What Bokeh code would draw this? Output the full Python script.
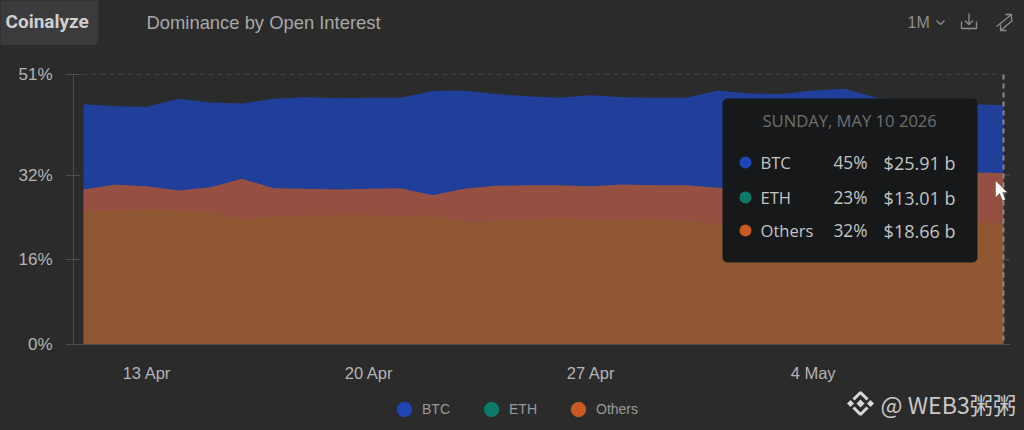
from datetime import datetime, timedelta

from bokeh.embed import file_html
from bokeh.models import (BoxAnnotation, ColumnDataSource, FixedTicker, Label, Legend, LegendItem,
                          PolyAnnotation, Range1d, Span)
from bokeh.plotting import figure
from bokeh.resources import INLINE

start = datetime(2026, 4, 11)
days = [start + timedelta(days=i) for i in range(30)]
btc = [45.4, 45.0, 44.9, 46.4, 45.7, 45.5, 46.4, 46.7, 46.5, 46.6,
       46.6, 47.9, 48.0, 47.3, 46.9, 46.6, 47.1, 46.7, 46.6, 46.6,
       48.0, 47.4, 47.3, 48.0, 48.3, 46.6, 46.1, 45.9, 45.4, 45.2]
others = [29.3, 30.2, 29.9, 29.1, 29.7, 31.3, 29.5, 29.4, 29.3, 29.4,
          29.5, 28.2, 29.4, 30.0, 30.1, 30.1, 29.9, 30.2, 30.1, 30.1,
          29.6, 29.5, 29.6, 29.8, 30.0, 30.2, 30.6, 31.4, 32.5, 32.4]
eth = [25.3, 25.2, 25.5, 25.2, 25.0, 23.6, 24.2, 24.3, 24.4, 24.5,
       24.1, 24.4, 23.1, 23.3, 23.4, 23.9, 23.4, 23.4, 23.6, 23.4,
       22.7, 22.8, 22.9, 23.0, 23.0, 23.1, 23.0, 23.0, 22.9, 23.0]
y_ticks = [0, 16, 32, 51]
y_labels = ["0%", "16%", "32%", "51%"]
x_ticks = [datetime(2026, 4, 13), datetime(2026, 4, 20), datetime(2026, 4, 27), datetime(2026, 5, 4)]
x_labels = ["13 Apr", "20 Apr", "27 Apr", "4 May"]
names = ["BTC", "ETH", "Others"]
shares = ["45%", "23%", "32%"]
amounts = ["$25.91 b", "$13.01 b", "$18.66 b"]
colors = ["#1d45b8", "#0b7a6a", "#c85a22"]
date_label = "SUNDAY, MAY 10 2026"

BG = "#2b2b2b"
SANS = "Liberation Sans"
TIP = "Open Sans"
HEAD_H, CHART_H, FOOT_H = 45, 340, 45
FOOT_TOP = HEAD_H + CHART_H
ICON = "#8e8e8e"


def place(f, top):
    f.styles = {"position": "fixed", "left": "0px", "top": f"{top}px", "background-color": BG}


def blank(height, top):
    f = figure(width=1024, height=height, output_backend="svg", toolbar_location=None,
               background_fill_color=None, border_fill_color=None, outline_line_color=None,
               min_border=0, x_axis_location=None, y_axis_location=None,
               x_range=Range1d(0, 1024), y_range=Range1d(height, 0))
    f.grid.visible = False
    place(f, top)
    return f


def box(f, l, t, r, b, color, radius=0):
    f.add_layout(BoxAnnotation(left=l, right=r, top=t, bottom=b, left_units="canvas", right_units="canvas",
                               top_units="canvas", bottom_units="canvas", fill_color=color, fill_alpha=1,
                               line_color=None, border_radius=radius, level="overlay"))


def txt(f, x, y, s, color, size, font=SANS, style="normal", align="left"):
    f.add_layout(Label(x=x, y=y, x_units="canvas", y_units="canvas", text=s, text_color=color,
                       text_font=font, text_font_size=f"{size}px", text_font_style=style,
                       text_align=align, text_baseline="middle", level="overlay"))


# ---------- header ----------
head = blank(HEAD_H, 0)
box(head, -6, -6, 98, 45, "#3b3b3d", 6)
txt(head, 5, 21, "Coinalyze", "#cfcfcf", 19, "Roboto", "bold")
txt(head, 146, 22, "Dominance by Open Interest", "#a8a8a8", 18.4)
txt(head, 907, 22, "1M", ICON, 16)
for xs, ys in [([936, 940, 944], [20, 24, 20]),
               ([961, 961, 976, 976], [21, 28, 28, 21]),
               ([968.5, 968.5], [13, 24]),
               ([964.5, 968.5, 972.5], [20, 24, 20]),
               ([996, 1011], [26, 14]),
               ([1005, 1011, 1011], [14, 14, 20]),
               ([1000, 1012], [30, 20]),
               ([1000, 1000, 1006], [24, 30, 30])]:
    head.line(xs, ys, line_color=ICON, line_width=1.3)

# ---------- chart ----------
p = figure(width=1024, height=CHART_H, output_backend="svg", toolbar_location=None,
           x_axis_type="datetime", background_fill_color=None, border_fill_color=None,
           outline_line_color=None, min_border_left=73, min_border_right=14,
           min_border_top=74 - HEAD_H, min_border_bottom=FOOT_TOP - 344)
place(p, HEAD_H)

one_day = timedelta(days=1)
p.x_range = Range1d(days[0] - one_day * (10 / 31.72), days[-1] + one_day * (7 / 31.72))
p.y_range = Range1d(0, 51)
p.grid.visible = False

src = ColumnDataSource(dict(day=days, btc=btc, eth=eth, others=others))
p.varea(x="day", y1=0, y2="btc", source=src, fill_color=colors[0], fill_alpha=0.8)
p.varea(x="day", y1=0, y2="eth", source=src, fill_color="#006553", fill_alpha=0.7)
p.varea(x="day", y1=0, y2="others", source=src, fill_color="#c4581e", fill_alpha=0.72)

ya = p.yaxis[0]
ya.ticker = FixedTicker(ticks=y_ticks)
ya.major_label_overrides = dict(zip(y_ticks, y_labels))
ya.axis_line_color = "#4d4d4d"
ya.major_tick_line_color = "#4d4d4d"
ya.major_tick_in = 7
ya.major_tick_out = 8
ya.minor_tick_line_color = None
ya.major_label_standoff = 13
ya.major_label_text_color = "#b4b4b4"
ya.major_label_text_font = SANS
ya.major_label_text_font_size = "17px"

xa = p.xaxis[0]
ms = [(d - datetime(1970, 1, 1)).total_seconds() * 1000 for d in x_ticks]
xa.ticker = FixedTicker(ticks=ms)
xa.major_label_overrides = dict(zip(ms, x_labels))
xa.axis_line_color = "#4d4d4d"
xa.major_tick_line_color = None
xa.minor_tick_line_color = None
xa.major_label_standoff = 13
xa.major_label_text_color = "#b4b4b4"
xa.major_label_text_font = SANS
xa.major_label_text_font_size = "16.5px"

p.add_layout(Span(location=y_ticks[-1], dimension="width", line_color="#5c5c5c", line_dash="5 4", line_width=1))
p.add_layout(Span(location=days[-1], dimension="height", line_color="#8a8a8a", line_dash="5 4", line_width=2))
p.ray(x=[days[-1]] * 3, y=y_ticks[:3], length=7, length_units="screen", angle=0, line_color="#4d4d4d")

# tooltip
box(p, 722, 98 - HEAD_H, 977, 262 - HEAD_H, "#17181a", 5)
txt(p, 762, 120 - HEAD_H, date_label, "#6f6f6f", 16.6, TIP)
for row_y, name, share, amount, color in zip([162, 197, 230], names, shares, amounts, colors):
    y = row_y - HEAD_H
    box(p, 739, y - 6, 751, y + 6, color, 6)
    txt(p, 760, y, name, "#c4c4c4", 16.6, TIP)
    txt(p, 867, y, share, "#c4c4c4", 17.3, TIP, align="right")
    txt(p, 955, y, amount, "#c4c4c4", 18, TIP, align="right")

# cursor
cy = 180 - HEAD_H
p.add_layout(PolyAnnotation(xs=[995, 995, 999, 1002, 1005, 1002, 1007],
                            ys=[cy, cy + 17, cy + 13, cy + 20, cy + 19, cy + 12, cy + 12],
                            xs_units="canvas", ys_units="canvas", fill_color="#ffffff", fill_alpha=1,
                            line_color="#222222", line_width=1, level="overlay"))

# ---------- footer ----------
foot = blank(FOOT_H, FOOT_TOP)
nan = float("nan")
marks = [foot.scatter(x=[nan], y=[nan], size=15, color=c, marker="circle") for c in colors]
legend = Legend(items=[LegendItem(label=n, renderers=[m]) for n, m in zip(names, marks)],
                orientation="horizontal", location=(386, 3), background_fill_alpha=0, border_line_alpha=0,
                label_text_color="#9a9a9a", label_text_font=SANS, label_text_font_size="14px",
                glyph_width=36, glyph_height=36, spacing=23, label_standoff=0, padding=0, margin=0)
foot.add_layout(legend, "center")

LOGO = "#d8d8d8"
mid_x, mid_y = 860, 403 - FOOT_TOP
for dx, r in [(-10, 3.5), (0, 4), (10, 3.5)]:
    foot.patch([mid_x + dx - r, mid_x + dx, mid_x + dx + r, mid_x + dx], [mid_y, mid_y - r, mid_y, mid_y + r],
               fill_color=LOGO, line_color=None)
for sign in (-1, 1):
    foot.line([mid_x - 7, mid_x, mid_x + 7], [mid_y + sign * 4, mid_y + sign * 11, mid_y + sign * 4],
              line_color=LOGO, line_width=3)
txt(foot, 880, 403 - FOOT_TOP, "@ WEB3粥粥", "#c8c8c8", 23.2, "Noto Sans CJK SC")

open("out.html", "w").write(file_html([head, p, foot], INLINE))
